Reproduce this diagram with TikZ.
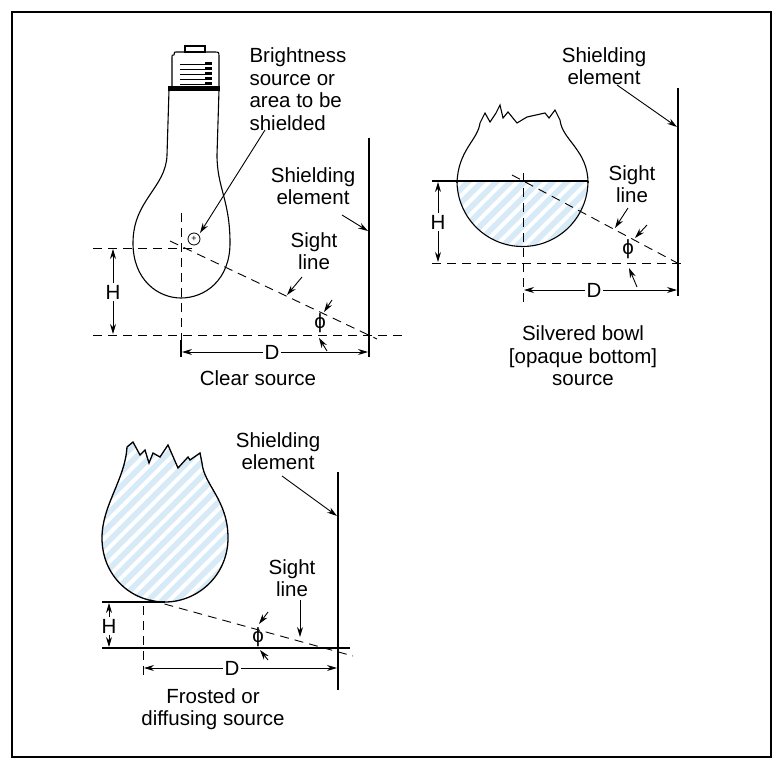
\documentclass[tikz,border=0pt]{standalone}
\usepackage{fontspec}
\setmainfont{Liberation Sans}
\usetikzlibrary{patterns.meta,arrows.meta}
\begin{document}
\begin{tikzpicture}[x=1pt,y=-1pt,line width=1.1pt,
 lbl/.style={font=\fontsize{20.5}{22.5}\selectfont,align=center,inner sep=0},
 dsh/.style={dash pattern=on 9pt off 6pt,line width=0.9pt},
 arr/.style={-{Stealth[length=10pt,width=6pt]},line width=0.9pt},
 dim/.style={{Stealth[length=10pt,width=6pt]}-{Stealth[length=10pt,width=6pt]},line width=0.9pt},
 shfill/.style={fill={rgb,255:red,214;green,234;blue,248}},
 shpat/.style={pattern={Lines[angle=45,distance=10pt,line width=4pt]},pattern color=white}]
\useasboundingbox (0,0) rectangle (784,770);
\draw[line width=1.2pt] (12,12) rectangle (771,757);
%% ---- clear source
\coordinate (fil) at (194,239);
\draw (174,55) .. controls (174,52) .. (178,52) -- (214,52) .. controls (219,52) .. (219,57) -- (219,87) -- (172,87) -- (172,57) .. controls (172,55) .. (174,55);
\draw (185,52) rectangle (205,46);
\foreach \y in {64,69,74,79,84} \draw[line width=0.6pt] (180,\y)--(210,\y);
\foreach \y in {62,67,72,77,82} \fill (205,\y) rectangle (212,\y+3);
\fill (168,86) rectangle (220,91);
\draw (169,90) -- (167,155) .. controls (166,188) and (133,200) .. (133,243)
  .. controls (133,280) and (158,298) .. (181,298)
  .. controls (205,298) and (230,280) .. (230,243)
  .. controls (230,200) and (217,188) .. (217,155) -- (219,90);
\draw[line width=0.8pt] (fil) circle (6);
\node[font=\fontsize{9}{9}\selectfont] at (fil) {+};
\draw[dsh] (181,213) -- (181,350);
\draw[dsh] (93,248) -- (195,248);
\draw[dsh] (93,335) -- (402,335);
\draw[dsh] (170,241) -- (377,339);
\draw (369,138) -- (369,357);
\draw (181,340) -- (181,357);
\draw[dim] (113,249) -- (113,334);
\node[lbl,fill=white,inner sep=2pt] at (113,292) {H};
\draw[dim] (182,352) -- (368,352);
\node[lbl,fill=white,inner sep=2pt] at (272,352) {D};
\node[lbl] at (258,378) {Clear source};
\node[lbl] at (320,323) {ϕ};
\draw[arr] (332,300) -- (324,312);
\draw[arr] (327,351) -- (319,338);
\node[lbl] (sl1) at (314,251) {Sight\\line};
\draw[arr] (302,277) -- (287,295);
\node[lbl] (se1) at (313,186) {Shielding\\element};
\draw[arr] (342,215) -- (368,231);
\node[lbl,align=left,anchor=west] (br) at (249,89) {Brightness\\source or\\area to be\\shielded};
\draw[arr] (265,130) -- (200,233);
%% ---- silvered bowl
\fill[shfill] (457,181) arc (180:0:65.5) -- cycle;
\fill[shpat] (457,181) arc (180:0:65.5) -- cycle;
\draw (457,183) .. controls (458,150) and (478,140) .. (480,123)
 -- (485,113) -- (490,122) -- (496,113) -- (500,105) -- (503,118) -- (508,112) -- (517,123) -- (527,117) -- (545,113) -- (549,118) -- (555,110) -- (560,120)
 .. controls (562,140) and (588,150) .. (588,183);
\draw (457,181) arc (180:0:65.5);
\draw (457,181) -- (588,181);
\draw[dsh] (523,173) -- (523,302);
\draw[dsh] (432,263) -- (686,263);
\draw[dsh] (512,175) -- (683,266);
\draw (432,181) -- (457,181);
\draw (678,88) -- (678,296);
\draw[dim] (438,182) -- (438,262);
\node[lbl,fill=white,inner sep=2pt] at (438,222) {H};
\draw[dim] (524,290) -- (677,290);
\node[lbl,fill=white,inner sep=2pt] at (594,290) {D};
\node[lbl] at (628,249) {ϕ};
\draw[arr] (647,225) -- (635,238);
\draw[arr] (637,287) -- (629,268);
\node[lbl] (sl2) at (632,184) {Sight\\line};
\draw[arr] (628,208) -- (615,228);
\node[lbl] (se2) at (604,66) {Shielding\\element};
\draw[arr] (617,85) -- (677,127);
\node[lbl] at (583,356) {Silvered bowl\\{}[opaque bottom]\\source};
%% ---- frosted
\def\frost{(127,447) -- (133,442) -- (140,455) -- (145,450) -- (149,463) -- (153,453) -- (160,457) -- (168,445) -- (178,468) -- (188,457) -- (190,460) -- (200,453) -- (202,463)
 .. controls (204,485) and (228,500) .. (228,538)
 .. controls (228,575) and (198,602) .. (165,602)
 .. controls (130,602) and (102,575) .. (102,538)
 .. controls (102,505) and (125,480) .. (127,447)}
\fill[shfill] \frost;
\fill[shpat] \frost;
\draw[line width=1.3pt] \frost;
\draw (102,602) -- (165,602);
\draw (102,648) -- (350,648);
\draw[dsh] (143,606) -- (143,680);
\draw[dsh] (150,600) -- (353,656);
\draw (338,472) -- (338,690);
\draw[dim] (109,603) -- (109,647);
\node[lbl,fill=white,inner sep=2pt] at (109,626) {H};
\draw[dim] (144,668) -- (337,668);
\node[lbl,fill=white,inner sep=2pt] at (232,668) {D};
\node[lbl] at (258,637) {ϕ};
\draw[arr] (268,612) -- (259,624);
\draw[arr] (268,660) -- (260,650);
\node[lbl] (sl3) at (292,578) {Sight\\line};
\draw[arr] (300,600) -- (300,637);
\node[lbl] (se3) at (278,451) {Shielding\\element};
\draw[arr] (282,476) -- (337,516);
\node[lbl] at (213,709) {Frosted or\\diffusing source};
\end{tikzpicture}
\end{document}
